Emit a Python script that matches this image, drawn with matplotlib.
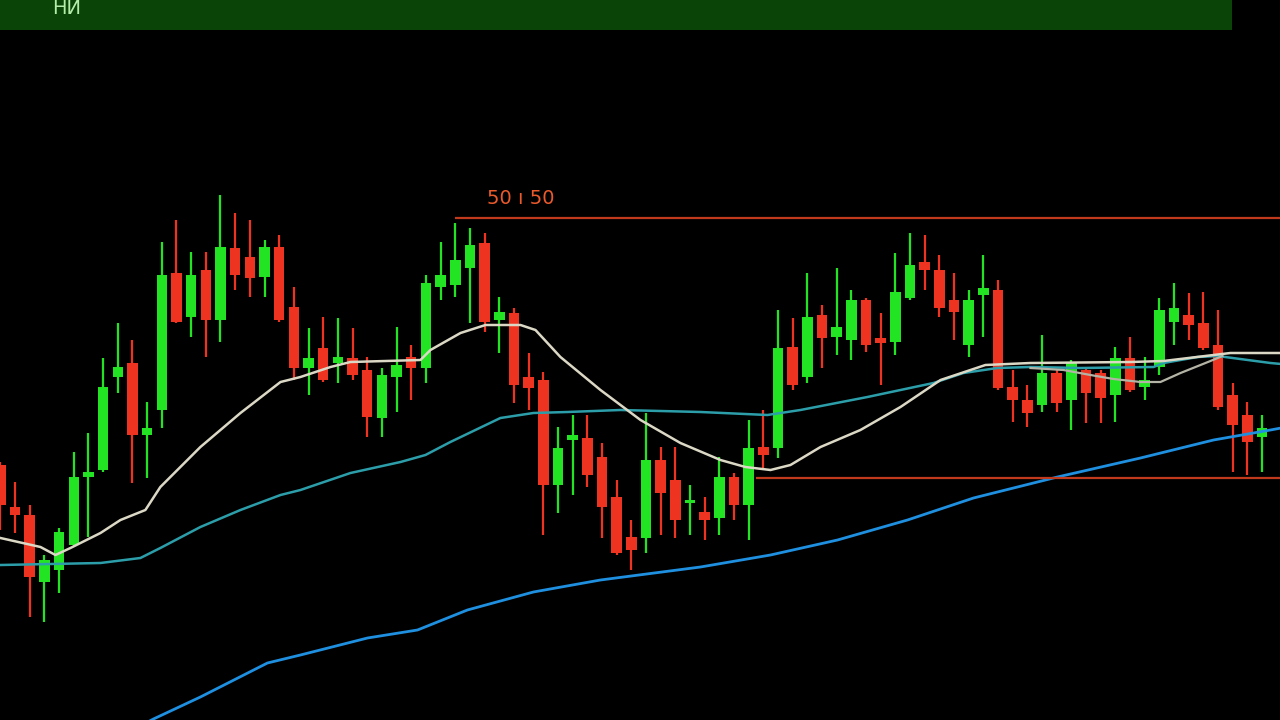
import matplotlib
matplotlib.use('Agg')
import matplotlib.pyplot as plt
from matplotlib.patches import Rectangle
import numpy as np

# candle data (one candle per index), price units are arbitrary
opens = [255, 213, 205, 138, 150, 175, 243, 250, 343, 357, 285, 310, 447, 403, 450, 400, 472, 463, 443, 473,
         413, 352, 372, 357, 362, 350, 302, 343, 363, 352, 433, 435, 452, 477, 400, 407, 343, 340, 235, 280,
         282, 263, 223, 183, 182, 260, 240, 217, 208, 202, 243, 215, 273, 272, 373, 343, 405, 383, 380, 420,
         382, 378, 422, 458, 450, 420, 375, 425, 430, 333, 320, 315, 347, 320, 350, 347, 325, 362, 333, 353,
         398, 405, 397, 375, 325, 305, 283]
highs = [258, 238, 215, 165, 192, 268, 287, 362, 397, 380, 318, 478, 500, 468, 468, 525, 507, 500, 480, 485,
         433, 392, 403, 402, 392, 363, 352, 393, 375, 445, 478, 497, 492, 487, 423, 412, 367, 348, 293, 305,
         305, 277, 240, 200, 307, 273, 273, 235, 223, 263, 247, 300, 310, 410, 402, 447, 415, 452, 430, 422,
         407, 467, 487, 485, 465, 447, 430, 465, 440, 350, 335, 385, 350, 360, 353, 350, 373, 383, 363, 422,
         437, 427, 428, 410, 337, 318, 305]
lows = [190, 187, 103, 98, 127, 173, 183, 248, 327, 237, 242, 292, 397, 383, 363, 378, 430, 423, 423, 398,
        340, 325, 338, 337, 340, 283, 283, 308, 320, 337, 420, 423, 397, 388, 367, 317, 310, 185, 207, 225,
        233, 182, 165, 150, 167, 185, 182, 185, 180, 185, 200, 180, 250, 262, 330, 337, 352, 365, 360, 368,
        335, 365, 420, 430, 403, 380, 363, 383, 330, 298, 293, 308, 308, 290, 297, 297, 298, 328, 320, 345,
        375, 380, 370, 310, 248, 245, 248]
closes = [215, 205, 143, 160, 188, 243, 248, 333, 353, 285, 292, 445, 398, 445, 400, 473, 445, 442, 473, 400,
          352, 362, 340, 363, 345, 303, 345, 355, 352, 437, 445, 460, 475, 398, 408, 335, 332, 235, 272, 285,
          245, 213, 167, 170, 260, 227, 200, 220, 200, 243, 215, 272, 265, 372, 335, 403, 382, 393, 420, 375,
          377, 428, 455, 450, 412, 408, 420, 432, 332, 320, 307, 347, 317, 357, 327, 322, 362, 330, 340, 410,
          412, 395, 372, 313, 295, 278, 292]

# moving averages, sampled at candle positions
fast_x = [0, 2.73, 3.75, 4.77, 6.82, 8.18, 9.88, 10.9, 13.63, 16.36, 19.09, 20.45, 22.5, 23.86, 28.63, 29.31,
          31.36, 33.06, 35.45, 36.47, 38.17, 40.9, 43.63, 46.35, 49.08, 50.78, 52.49, 53.85, 55.9, 58.62, 61.35,
          64.08, 67.14, 70.21, 77.03, 79.28, 82.69, 83.84, 86.57, 87.3]
fast_y = [182, 173, 165, 172, 187, 200, 210, 233, 273, 307, 338, 343, 353, 358, 360, 370,
          387, 395, 395, 390, 363, 330, 300, 277, 260, 253, 250, 255, 273, 290, 313,
          340, 355, 357, 358, 359, 365, 367, 367, 367]
mid_x = [0, 6.82, 9.54, 10.9, 13.63, 16.36, 19.09, 20.45, 23.86, 27.27, 28.97, 30.67, 34.08, 36.33, 38.65,
         42.26, 47.72, 52.28, 54.53, 59.1, 63.6, 65.64, 67.96, 70.21, 73.62, 78.6, 79.28, 81.6, 82.96, 86.57, 87.3]
mid_y = [155, 157, 162, 172, 193, 210, 225, 230, 247, 258, 265, 278, 302, 307, 308,
         310, 308, 305, 310, 323, 337, 347, 352, 353, 352, 353, 357, 363, 364, 357, 356]
ghost_x = [70.21, 72.46, 74.3, 75.87, 77.71, 79.07, 80.44, 82.48, 83.3]
ghost_y = [352, 350, 345, 341, 338, 338, 347, 359, 364]
slow_x = [9.54, 10.43, 13.63, 18.2, 20.45, 25.02, 28.43, 31.83, 36.33, 40.9, 47.72, 52.49, 57.06, 61.83,
          66.33, 72.05, 77.71, 82.69, 86.57, 87.3]
slow_y = [-6, 1, 23, 57, 65, 82, 90, 110, 128, 140, 153, 165, 180, 200,
          222, 243, 262, 280, 290, 292]

# support / resistance box
resist_level = 502
resist_start = 31.0
support_level = 242
support_start = 51.5
box_label = '50 ı 50'
banner_text = 'HИ'

GREEN = '#22e422'
RED = '#ee3420'

fig = plt.figure(figsize=(12.8, 7.2), dpi=100, facecolor='black')
ax = fig.add_axes([0, 0, 1, 1])
ax.set_facecolor('black')
ax.set_xlim(-0.03, 87.22)
ax.set_ylim(0, 720)
ax.axis('off')

x = np.arange(len(opens))
o = np.array(opens)
c = np.array(closes)
up = c >= o
colors = np.where(up, GREEN, RED)

ax.vlines(x, lows, highs, colors=colors, linewidth=1.6, zorder=2)
body = np.maximum(np.abs(c - o), 3)
ax.bar(x, body, bottom=np.minimum(o, c), width=0.72, color=colors, zorder=2)

ax.plot(slow_x, slow_y, color='#1f8fe0', lw=2.0, zorder=3)
ax.plot(mid_x, mid_y, color='#2c9eaa', lw=1.8, zorder=3)
ax.plot(ghost_x, ghost_y, color='#b4b4a6', lw=1.6, zorder=3)
ax.plot(fast_x, fast_y, color='#dcd8c6', lw=1.8, zorder=3)

ax.hlines(resist_level, resist_start, 87.3, color='#c23a1c', lw=1.6, zorder=3)
ax.hlines(support_level, support_start, 87.3, color='#c23a1c', lw=1.6, zorder=3)
ax.text(35.45, 522, box_label, color='#ec5a2c', fontsize=14, ha='center', va='center')

# top banner
fig.patches.append(Rectangle((0, 1 - 30 / 720), 1232 / 1280, 30 / 720, transform=fig.transFigure,
                             facecolor='#0a4406', edgecolor='none', zorder=0))
fig.text(52 / 1280, 1 - 9 / 720, banner_text, color='#b4ecaa', fontsize=14, ha='left', va='center')

fig.savefig('out.png', dpi=100, facecolor='black')
